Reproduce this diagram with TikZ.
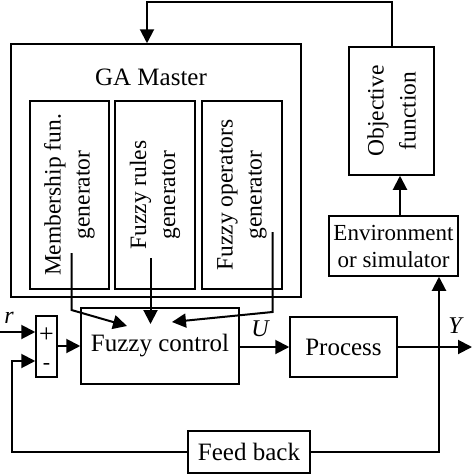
\documentclass[tikz,border=0pt]{standalone}
\usepackage{fontspec}
\setmainfont{Liberation Serif}
\usetikzlibrary{arrows.meta,calc}
\begin{document}
\begin{tikzpicture}[x=1pt,y=-1pt,
  box/.style={draw,line width=1.5pt,inner sep=0pt,minimum width=#1},
  txt/.style={font=\fontsize{25}{29}\selectfont,align=center,inner sep=0pt},
  rtxt/.style={font=\fontsize{23.5}{29}\selectfont,align=center,inner sep=0pt},
  arr/.style={line width=2pt,-{Triangle[length=14pt,width=14pt]}},
  ln/.style={line width=2pt}]
\useasboundingbox (0,0) rectangle (474,474);
% GA master
\node[box=290pt,minimum height=253pt] (ga) at (156,170.5) {};
\node[txt] (gat) at (151,77) {GA Master};
\node[box=188pt,minimum height=79pt,rotate=90,rtxt] (g1) at (69.5,195) {Membership fun.\\generator};
\node[box=188pt,minimum height=80pt,rotate=90,rtxt] (g2) at (155,195) {Fuzzy rules\\generator};
\node[box=188pt,minimum height=80pt,rotate=90,rtxt] (g3) at (242,195) {Fuzzy operators\\generator};
% right side
\node[box=128pt,minimum height=85pt,rotate=90,rtxt,font=\fontsize{23.5}{32}\selectfont] (obj) at (391.5,111) {Objective\\function};
\node[box=129pt,minimum height=60pt,txt,font=\fontsize{23}{27}\selectfont] (env) at (393.5,246) {Environment\\or simulator};
% control loop
\node[box=158pt,minimum height=76pt,txt] (fc) at (160,346) {Fuzzy control};
\node[box=21pt,minimum height=61pt] (sum) at (46.5,346.5) {};
\node[inner sep=0pt,font=\fontsize{26}{28}\selectfont] (plus) at (46.5,335) {+};
\node[inner sep=0pt,font=\fontsize{22}{24}\selectfont] (minus) at (46.5,366) {-};
\node[box=107pt,minimum height=60pt,txt] (proc) at (343.5,347) {Process};
\node[box=122pt,minimum height=42pt,txt] (fb) at (249,452) {Feed back};
% coordinates
\coordinate (top) at (147,1.5);
\coordinate (rin) at (0,332);
\coordinate (yout) at (472,347);
\coordinate (fbx) at (439,452);
\coordinate (fbl) at (12,452);
\coordinate (g1s) at (71.5,253);
\coordinate (g1b) at (71.5,310);
\coordinate (g1t) at (127,326);
\coordinate (g2s) at (150.5,258);
\coordinate (g2t) at (150.5,324);
\coordinate (g3s) at (272.5,232);
\coordinate (g3b) at (272.5,312);
\coordinate (g3t) at (172,322);
% connectors
\draw[arr] (obj.east) -- (obj.east |- top) -- (top) -- (top |- ga.north);
\draw[arr] (env.north -| 400,0) -- (obj.west -| 400,0);
\draw[arr] (fb.east) -- (fbx) -- (fbx |- env.south);
\draw[arr] (fb.west) -- (fbl) -- (fbl |- 0,361) -- (sum.west |- 0,361);
\draw[arr] (rin) -- (sum.west |- rin);
\draw[arr] (sum.east |- fc.west) -- (fc.west);
\draw[arr] (fc.east |- 0,347) -- (proc.west |- 0,347);
\node[txt,font=\itshape\fontsize{24}{27}\selectfont] (ul) at (260,329) {U};
\draw[arr] (proc.east |- 0,347) -- (yout);
\node[txt,font=\itshape\fontsize{24}{27}\selectfont] (yl) at (455,326) {Y};
\node[txt,font=\itshape\fontsize{24}{27}\selectfont] (rl) at (9,318) {r};
\draw[arr] (g1s) -- (g1b) -- (g1t);
\draw[arr] (g2s) -- (g2t);
\draw[arr] (g3s) -- (g3b) -- (g3t);
\end{tikzpicture}
\end{document}
